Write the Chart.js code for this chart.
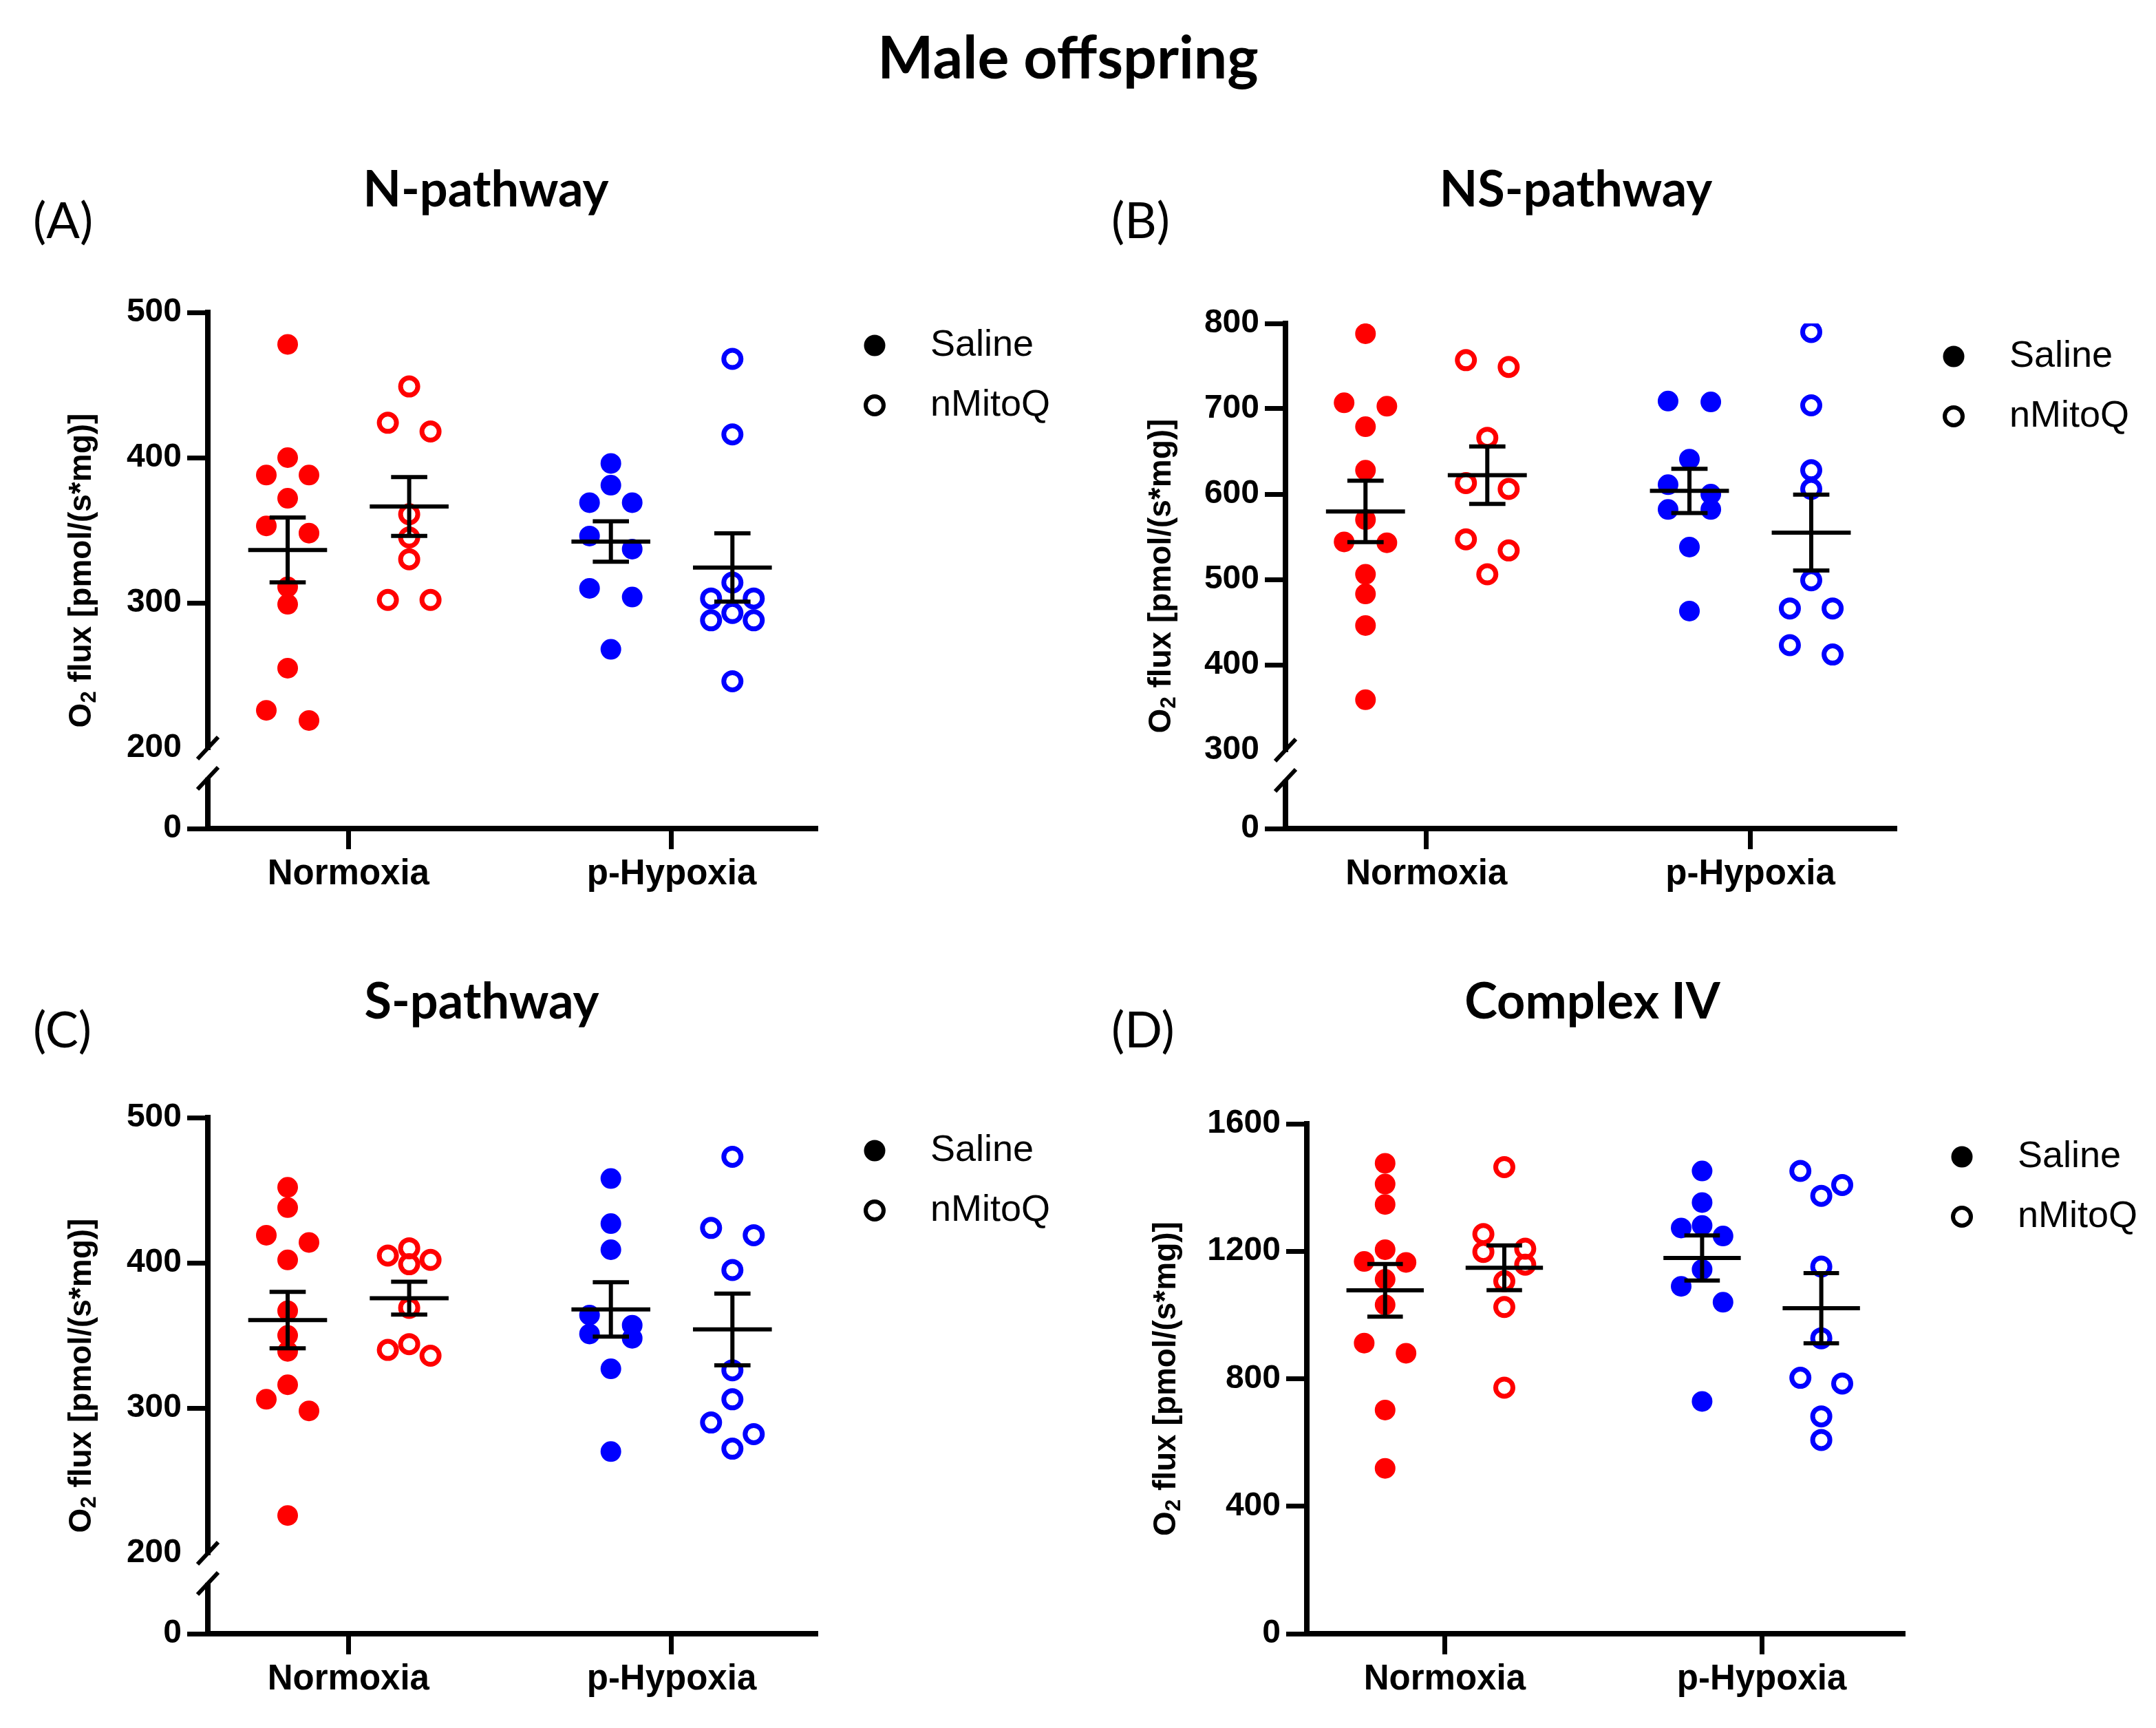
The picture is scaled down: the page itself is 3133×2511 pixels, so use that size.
<!DOCTYPE html>
<html>
<head>
<meta charset="utf-8">
<script src="https://cdn.jsdelivr.net/npm/chart.js@4.4.1/dist/chart.umd.min.js"></script>
<style>
  body { margin: 0; background: #fff; width: 3133px; height: 2511px; position: relative; overflow: hidden; }
  .txt { position: absolute; font-family: Lato, "Open Sans", sans-serif; color: #000; white-space: nowrap; line-height: 1; }
  .head { font-weight: bold; transform: translateX(-50%); }
  canvas { position: absolute; }
</style>
</head>
<body>
<div class="txt head" style="left:1552px; top:38px; font-size:86px;">Male offspring</div>
<div class="txt head" style="left:706px; top:236px; font-size:72px;">N-pathway</div>
<div class="txt head" style="left:2290px; top:236px; font-size:72px;">NS-pathway</div>
<div class="txt head" style="left:700px; top:1416px; font-size:72px;">S-pathway</div>
<div class="txt head" style="left:2314px; top:1416px; font-size:72px;">Complex IV</div>
<div class="txt" style="left:48px; top:282px; font-size:72px;">(A)</div>
<div class="txt" style="left:1615px; top:282px; font-size:72px;">(B)</div>
<div class="txt" style="left:48px; top:1458px; font-size:72px;">(C)</div>
<div class="txt" style="left:1615px; top:1458px; font-size:72px;">(D)</div>

<canvas id="cA"></canvas>
<canvas id="cB"></canvas>
<canvas id="cC"></canvas>
<canvas id="cD"></canvas>

<script>
// groups on the x axis
const groups = ['Normoxia', 'p-Hypoxia'];
const groupX = [1, 2];
const legendLabels = ['Saline', 'nMitoQ'];

// (A) N-pathway
const nNormSaline = [478, 400, 388, 388, 372, 353, 348, 311, 299, 255, 226, 219];
const nNormMito   = [449, 424, 418, 361, 345, 330, 302, 302];
const nHypSaline  = [396, 381, 369, 369, 346, 337, 310, 304, 268];
const nHypMito    = [468, 416, 314, 303, 303, 293, 288, 288, 246];
const nTicks = [200, 300, 400, 500];

// (B) NS-pathway
const nsNormSaline = [788, 707, 703, 679, 628, 570, 544, 543, 506, 483, 446, 359];
const nsNormMito   = [757, 749, 666, 613, 606, 547, 534, 506];
const nsHypSaline  = [709, 708, 641, 611, 600, 582, 582, 538, 463];
const nsHypMito    = [790, 704, 628, 606, 499, 466, 466, 423, 412];
const nsTicks = [300, 400, 500, 600, 700, 800];

// (C) S-pathway
const sNormSaline = [452, 438, 419, 414, 402, 367, 350, 339, 316, 306, 298, 226];
const sNormMito   = [410, 405, 402, 399, 369, 344, 340, 336];
const sHypSaline  = [458, 427, 409, 364, 357, 351, 348, 327, 270];
const sHypMito    = [473, 424, 419, 395, 326, 306, 290, 282, 272];
const sTicks = [200, 300, 400, 500];

// (D) Complex IV
const c4NormSaline = [1476, 1411, 1347, 1205, 1168, 1165, 1112, 1032, 912, 880, 702, 519];
const c4NormMito   = [1464, 1254, 1208, 1198, 1158, 1106, 1025, 772];
const c4HypSaline  = [1452, 1353, 1281, 1273, 1248, 1143, 1090, 1040, 729];
const c4HypMito    = [1452, 1408, 1374, 1152, 927, 803, 785, 682, 608];
const c4Ticks = [0, 400, 800, 1200, 1600];

const RED = '#ff0000', BLUE = '#0000ff';
const tickFont = { family: '"Liberation Sans", Arial, sans-serif', weight: 'bold', size: 48 };
const catFont = { family: '"Liberation Sans", Arial, sans-serif', weight: 'bold', size: 51 };

function meanSem(vals) {
  const n = vals.length;
  const m = vals.reduce((a, b) => a + b, 0) / n;
  const sd = Math.sqrt(vals.reduce((a, b) => a + (b - m) * (b - m), 0) / (n - 1));
  return [m, sd / Math.sqrt(n)];
}

// scatter-dot layout: values close together share a row and are spread sideways
function swarm(vals, cx, span) {
  const tol = span * 0.033, slot = 0.066;
  const sorted = vals.slice().sort((a, b) => b - a);
  const pts = [];
  let k = 0;
  while (k < sorted.length) {
    let j = k + 1;
    while (j < sorted.length && sorted[k] - sorted[j] < tol) j++;
    const n = j - k;
    const order = n % 2 ? [0, -1, 1, -2, 2, -3, 3] : [-1, 1, -2, 2, -3, 3];
    for (let i = 0; i < n; i++) pts.push({ x: cx + order[i] * slot, y: sorted[k + i] });
    k = j;
  }
  return pts;
}

function errorBar(vals, cx) {
  const [m, s] = meanSem(vals);
  return {
    data: [
      { x: cx - 0.122, y: m }, { x: cx + 0.122, y: m }, { x: cx, y: null },
      { x: cx, y: m - s }, { x: cx, y: m + s }, { x: cx, y: null },
      { x: cx - 0.056, y: m + s }, { x: cx + 0.056, y: m + s }, { x: cx, y: null },
      { x: cx - 0.056, y: m - s }, { x: cx + 0.056, y: m - s }
    ],
    showLine: true, spanGaps: false, borderColor: '#000', borderWidth: 6,
    borderCapStyle: 'butt', pointRadius: 0, yAxisID: 'y'
  };
}

// axis break marks, rotated y title and the little legend
const panelDecor = {
  id: 'panelDecor',
  afterDraw(chart, args, opts) {
    const ctx = chart.ctx, a = chart.chartArea;
    ctx.save();
    if (opts.broken) {
      const yb = chart.scales.y.bottom, gap = 44;
      ctx.fillStyle = '#fff';
      ctx.fillRect(a.left - 10, yb + 3, 20, gap - 4);
      ctx.strokeStyle = '#000';
      ctx.lineWidth = 6;
      [yb, yb + gap].forEach(y => {
        ctx.beginPath();
        ctx.moveTo(a.left - 15, y + 16);
        ctx.lineTo(a.left + 15, y - 16);
        ctx.stroke();
      });
    }

    // y axis title with subscript
    ctx.fillStyle = '#000';
    ctx.translate(a.left - opts.titleOffset, (a.top + a.bottom) / 2);
    ctx.rotate(-Math.PI / 2);
    ctx.textBaseline = 'middle';
    ctx.textAlign = 'left';
    const big = 'bold 46px "Liberation Sans", Arial, sans-serif';
    const small = 'bold 31px "Liberation Sans", Arial, sans-serif';
    const parts = [['O', big, 0], ['2', small, 11], [' flux [pmol/(s*mg)]', big, 0]];
    let total = 0;
    parts.forEach(p => { ctx.font = p[1]; total += ctx.measureText(p[0]).width; });
    let x = -total / 2;
    parts.forEach(p => {
      ctx.font = p[1];
      ctx.fillText(p[0], x, p[2]);
      x += ctx.measureText(p[0]).width;
    });
    ctx.setTransform(1, 0, 0, 1, 0, 0);

    // legend
    const lx = a.right + 86, rows = [a.top + 48, a.top + 135];
    ctx.fillStyle = '#000';
    ctx.strokeStyle = '#000';
    ctx.beginPath();
    ctx.arc(lx, rows[0], 15.5, 0, Math.PI * 2);
    ctx.fill();
    ctx.lineWidth = 6;
    ctx.beginPath();
    ctx.arc(lx, rows[1], 13, 0, Math.PI * 2);
    ctx.stroke();
    ctx.font = '54px "Liberation Sans", Arial, sans-serif';
    ctx.textBaseline = 'middle';
    ctx.textAlign = 'left';
    legendLabels.forEach((t, i) => ctx.fillText(t, a.right + 167, rows[i]));
    ctx.restore();
  }
};

const panels = [
  { id: 'cA', left: 2, top: 414, width: 1558, height: 900, padRight: 375,
    series: [nNormSaline, nNormMito, nHypSaline, nHypMito], ticks: nTicks, lowPx: 117, highPx: 633, titleOffset: 183 },
  { id: 'cB', left: 1568, top: 430, width: 1560, height: 884, padRight: 375,
    series: [nsNormSaline, nsNormMito, nsHypSaline, nsHypMito], ticks: nsTicks, lowPx: 114, highPx: 620, titleOffset: 180 },
  { id: 'cC', left: 2, top: 1584, width: 1558, height: 900, padRight: 375,
    series: [sNormSaline, sNormMito, sHypSaline, sHypMito], ticks: sTicks, lowPx: 117, highPx: 633, titleOffset: 183 },
  { id: 'cD', left: 1599, top: 1593, width: 1526, height: 891, padRight: 360,
    series: [c4NormSaline, c4NormMito, c4HypSaline, c4HypMito], ticks: c4Ticks, lowPx: 0, highPx: 741, titleOffset: 204 }
];

function yAxis(ticks, extra) {
  return Object.assign({
    type: 'linear', position: 'left', min: ticks[0], max: ticks[ticks.length - 1],
    afterBuildTicks: s => { s.ticks = ticks.map(v => ({ value: v })); },
    afterFit: s => { s.width = 300; },
    ticks: { font: tickFont, color: '#000', padding: 8, callback: v => String(v) },
    grid: { drawOnChartArea: false, drawTicks: true, tickLength: 30, lineWidth: 7, tickWidth: 7,
            tickColor: '#000' },
    border: { display: true, color: '#000', width: 8 }
  }, extra || {});
}

panels.forEach(p => {
  const cv = document.getElementById(p.id);
  cv.width = p.width;
  cv.height = p.height;
  cv.style.left = p.left + 'px';
  cv.style.top = p.top + 'px';

  const span = p.ticks[p.ticks.length - 1] - p.ticks[0];
  const colors = [RED, RED, BLUE, BLUE];
  const centers = [groupX[0] - 0.188, groupX[0] + 0.188, groupX[1] - 0.188, groupX[1] + 0.188];

  const datasets = [];
  p.series.forEach((vals, i) => datasets.push(errorBar(vals, centers[i])));
  p.series.forEach((vals, i) => {
    const filled = i % 2 === 0;
    datasets.push({
      data: swarm(vals, centers[i], span),
      yAxisID: 'y',
      pointRadius: filled ? 14 : 12.5,
      pointBorderWidth: filled ? 2 : 7,
      pointBackgroundColor: filled ? colors[i] : 'rgba(0,0,0,0)',
      pointBorderColor: colors[i]
    });
  });

  const scales = {
    x: {
      type: 'linear', position: 'bottom', min: 0.565, max: 2.445,
      afterBuildTicks: s => { s.ticks = groupX.map(v => ({ value: v })); },
      afterFit: s => { s.height = 110; },
      ticks: { font: catFont, color: '#000', padding: 6, maxRotation: 0, autoSkip: false,
               callback: (v, i) => groups[i] },
      grid: { drawOnChartArea: false, drawTicks: true, tickLength: 30, lineWidth: 7, tickWidth: 7, tickColor: '#000' },
      border: { display: true, color: '#000', width: 8 }
    }
  };

  if (p.lowPx) {
    const lo = p.ticks[0];
    scales.y = yAxis(p.ticks, { stack: 'v', stackWeight: p.highPx, weight: 2 });
    scales.y.grid.tickColor = c => (c.tick && c.tick.value === lo) ? 'rgba(0,0,0,0)' : '#000';
    scales.yLow = yAxis([0, 50], { stack: 'v', stackWeight: p.lowPx, weight: 1 });
    scales.yLow.afterBuildTicks = s => { s.ticks = [{ value: 0 }]; };
  } else {
    scales.y = yAxis(p.ticks);
  }

  new Chart(cv, {
    type: 'scatter',
    data: { datasets: datasets },
    options: {
      responsive: false,
      animation: false,
      devicePixelRatio: 1,
      events: [],
      layout: { padding: { top: 40, right: p.padRight, left: 0, bottom: 0 } },
      scales: scales,
      plugins: {
        legend: { display: false },
        tooltip: { enabled: false },
        panelDecor: { broken: !!p.lowPx, titleOffset: p.titleOffset }
      }
    },
    plugins: [panelDecor]
  });
});
</script>
</body>
</html>
